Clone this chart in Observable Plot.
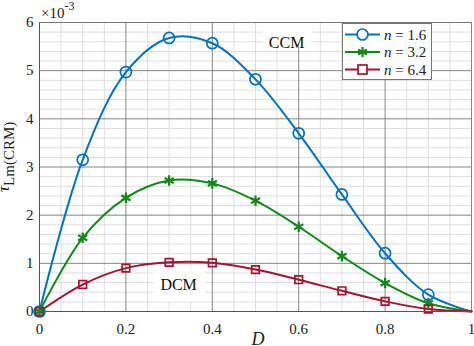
<!DOCTYPE html>
<html><head><meta charset="utf-8">
<script src="https://cdn.jsdelivr.net/npm/d3@7"></script>
<script src="https://cdn.jsdelivr.net/npm/@observablehq/plot@0.6"></script>
<style>
body{margin:0;background:#fff}
svg{display:block}
svg text{font-family:'Liberation Serif','Times New Roman',serif !important}
</style>
</head><body><div id="chart"></div>
<script>
// Duty ratio D (marker positions)
const dutyD = [0, 0.1, 0.2, 0.3, 0.4, 0.5, 0.6, 0.7, 0.8, 0.9];
// tau_Lm(CRM) values (x 10^-3)
const tauN16 = [0, 3.15, 4.97, 5.68, 5.57, 4.82, 3.70, 2.43, 1.21, 0.35];
const tauN32 = [0, 1.53, 2.36, 2.72, 2.66, 2.30, 1.76, 1.15, 0.59, 0.17];
const tauN64 = [0, 0.56, 0.90, 1.02, 1.01, 0.87, 0.66, 0.43, 0.21, 0.05];
// curve end point (D = 1, tau = 0)
const endD = 1, endTau = 0;
const seriesNames = ["1.6", "3.2", "6.4"];
const seriesColors = ["#0072BD", "#11891A", "#A2142F"];
const xTicks = [0, 0.2, 0.4, 0.6, 0.8, 1];
const yTicks = [0, 1, 2, 3, 4, 5, 6];

const allSeries = [tauN16, tauN32, tauN64];
const rows = [];
const lineRows = [];
allSeries.forEach((vals, i) => {
  vals.forEach((v, j) => rows.push({D: dutyD[j], tau: v, n: seriesNames[i]}));
  vals.forEach((v, j) => lineRows.push({D: dutyD[j], tau: v, n: seriesNames[i]}));
  lineRows.push({D: endD, tau: endTau, n: seriesNames[i]});
});

const minorX = d3.range(0, 1.0001, 0.05).filter(v => Math.abs(v * 5 - Math.round(v * 5)) > 1e-6);
const minorY = d3.range(0, 6.0001, 0.2).filter(v => Math.abs(v - Math.round(v)) > 1e-6);
const FONT = "'Liberation Serif', 'Times New Roman', serif";
const colorOf = n => seriesColors[seriesNames.indexOf(n)];

const plot = Plot.plot({
  width: 474, height: 346,
  marginLeft: 39, marginRight: 3, marginTop: 22, marginBottom: 35,
  style: {fontFamily: FONT, fontSize: "15px", background: "white", color: "#222"},
  x: {domain: [0, 1], axis: null},
  y: {domain: [0, 6], axis: null},
  marks: [
    Plot.ruleX(minorX, {stroke: "#dedede", strokeWidth: 1}),
    Plot.ruleY(minorY, {stroke: "#dedede", strokeWidth: 1}),
    Plot.ruleX(xTicks, {stroke: "#858585", strokeWidth: 1}),
    Plot.ruleY(yTicks, {stroke: "#858585", strokeWidth: 1}),
    Plot.rect([{}], {x1: 0.517, x2: 0.63, y1: 5.55, y2: 6.0, fill: "white"}),
    Plot.rect([{}], {x1: 0.265, x2: 0.385, y1: 0.2, y2: 0.85, fill: "white"}),
    Plot.text([{}], {x: 0.572, y: 5.57, text: () => "CCM", fontSize: 16, fontFamily: FONT, fill: "#111"}),
    Plot.text([{}], {x: 0.322, y: 0.55, text: () => "DCM", fontSize: 16, fontFamily: FONT, fill: "#111"}),
    Plot.line(lineRows, {x: "D", y: "tau", z: "n", stroke: d => colorOf(d.n), strokeWidth: 2, curve: "catmull-rom"}),
    Plot.dot(rows.filter(d => d.n === "1.6"), {x: "D", y: "tau", r: 5.5, stroke: seriesColors[0], strokeWidth: 1.7, fill: "none"}),
    Plot.dot(rows.filter(d => d.n === "3.2"), {x: "D", y: "tau", r: 5, symbol: "asterisk", stroke: seriesColors[1], strokeWidth: 2.2}),
    Plot.dot(rows.filter(d => d.n === "6.4"), {x: "D", y: "tau", r: 4.3, symbol: "square", stroke: seriesColors[2], strokeWidth: 1.7, fill: "none"}),
    Plot.axisX(xTicks, {tickSize: 0, tickPadding: 12, fontSize: 15, fontFamily: FONT, label: null, tickFormat: d => String(d), fill: "#222"}),
    Plot.axisY(yTicks, {tickSize: 0, tickPadding: 6, fontSize: 15, fontFamily: FONT, label: null, tickFormat: d => String(d), fill: "#222"}),
    Plot.ruleX([0], {stroke: "#555", strokeWidth: 1}),
    Plot.ruleY([0], {stroke: "#555", strokeWidth: 1}),
    Plot.ruleY([6], {stroke: "#777", strokeWidth: 1})
  ]
});
document.getElementById("chart").appendChild(plot);

const svg = d3.select(plot);
// exponent
const ex = svg.append("text").attr("x", 41).attr("y", 18).attr("text-anchor", "start")
  .attr("font-family", FONT).attr("font-size", 15).attr("fill", "#222");
ex.append("tspan").text("\u00d710");
ex.append("tspan").attr("dy", -8).attr("font-size", 12).text("-3");

// y label
const yl = svg.append("text").attr("transform", "translate(9,192) rotate(-90)").attr("text-anchor", "start")
  .attr("font-family", FONT).attr("font-size", 17).attr("fill", "#222");
yl.append("tspan").attr("font-style", "italic").text("\u03c4");
yl.append("tspan").attr("dy", 5).attr("font-size", 15).text("Lm(CRM)");

// x label
svg.append("text").attr("x", 258).attr("y", 345).attr("text-anchor", "middle")
  .attr("font-family", FONT).attr("font-size", 18).attr("font-style", "italic").attr("fill", "#222").text("D");

// legend
const lg = svg.append("g").attr("text-anchor", "start");
lg.append("rect").attr("x", 342.5).attr("y", 23.5).attr("width", 89).attr("height", 56)
  .attr("fill", "white").attr("stroke", "#777").attr("stroke-width", 1);
const rowY = [34.5, 52, 69.5];
seriesNames.forEach((name, i) => {
  const c = seriesColors[i];
  lg.append("line").attr("x1", 345).attr("x2", 380).attr("y1", rowY[i]).attr("y2", rowY[i]).attr("stroke", c).attr("stroke-width", 2);
  if (i === 0) lg.append("circle").attr("cx", 362.5).attr("cy", rowY[i]).attr("r", 5.5).attr("fill", "white").attr("stroke", c).attr("stroke-width", 1.7);
  if (i === 1) {
    const r = 5;
    for (const a of [0, 60, 120]) {
      const rad = (a + 90) * Math.PI / 180;
      lg.append("line").attr("x1", 362.5 - r * Math.cos(rad)).attr("y1", rowY[i] - r * Math.sin(rad))
        .attr("x2", 362.5 + r * Math.cos(rad)).attr("y2", rowY[i] + r * Math.sin(rad)).attr("stroke", c).attr("stroke-width", 2.2);
    }
  }
  if (i === 2) lg.append("rect").attr("x", 362.5 - 4.5).attr("y", rowY[i] - 4.5).attr("width", 9).attr("height", 9).attr("fill", "white").attr("stroke", c).attr("stroke-width", 1.7);
  const t = lg.append("text").attr("x", 384).attr("y", rowY[i] + 5).attr("text-anchor", "start")
    .attr("font-family", FONT).attr("font-size", 15).attr("fill", "#222");
  t.append("tspan").attr("font-style", "italic").text("n");
  t.append("tspan").text(" = " + name);
});
</script>
</body></html>
